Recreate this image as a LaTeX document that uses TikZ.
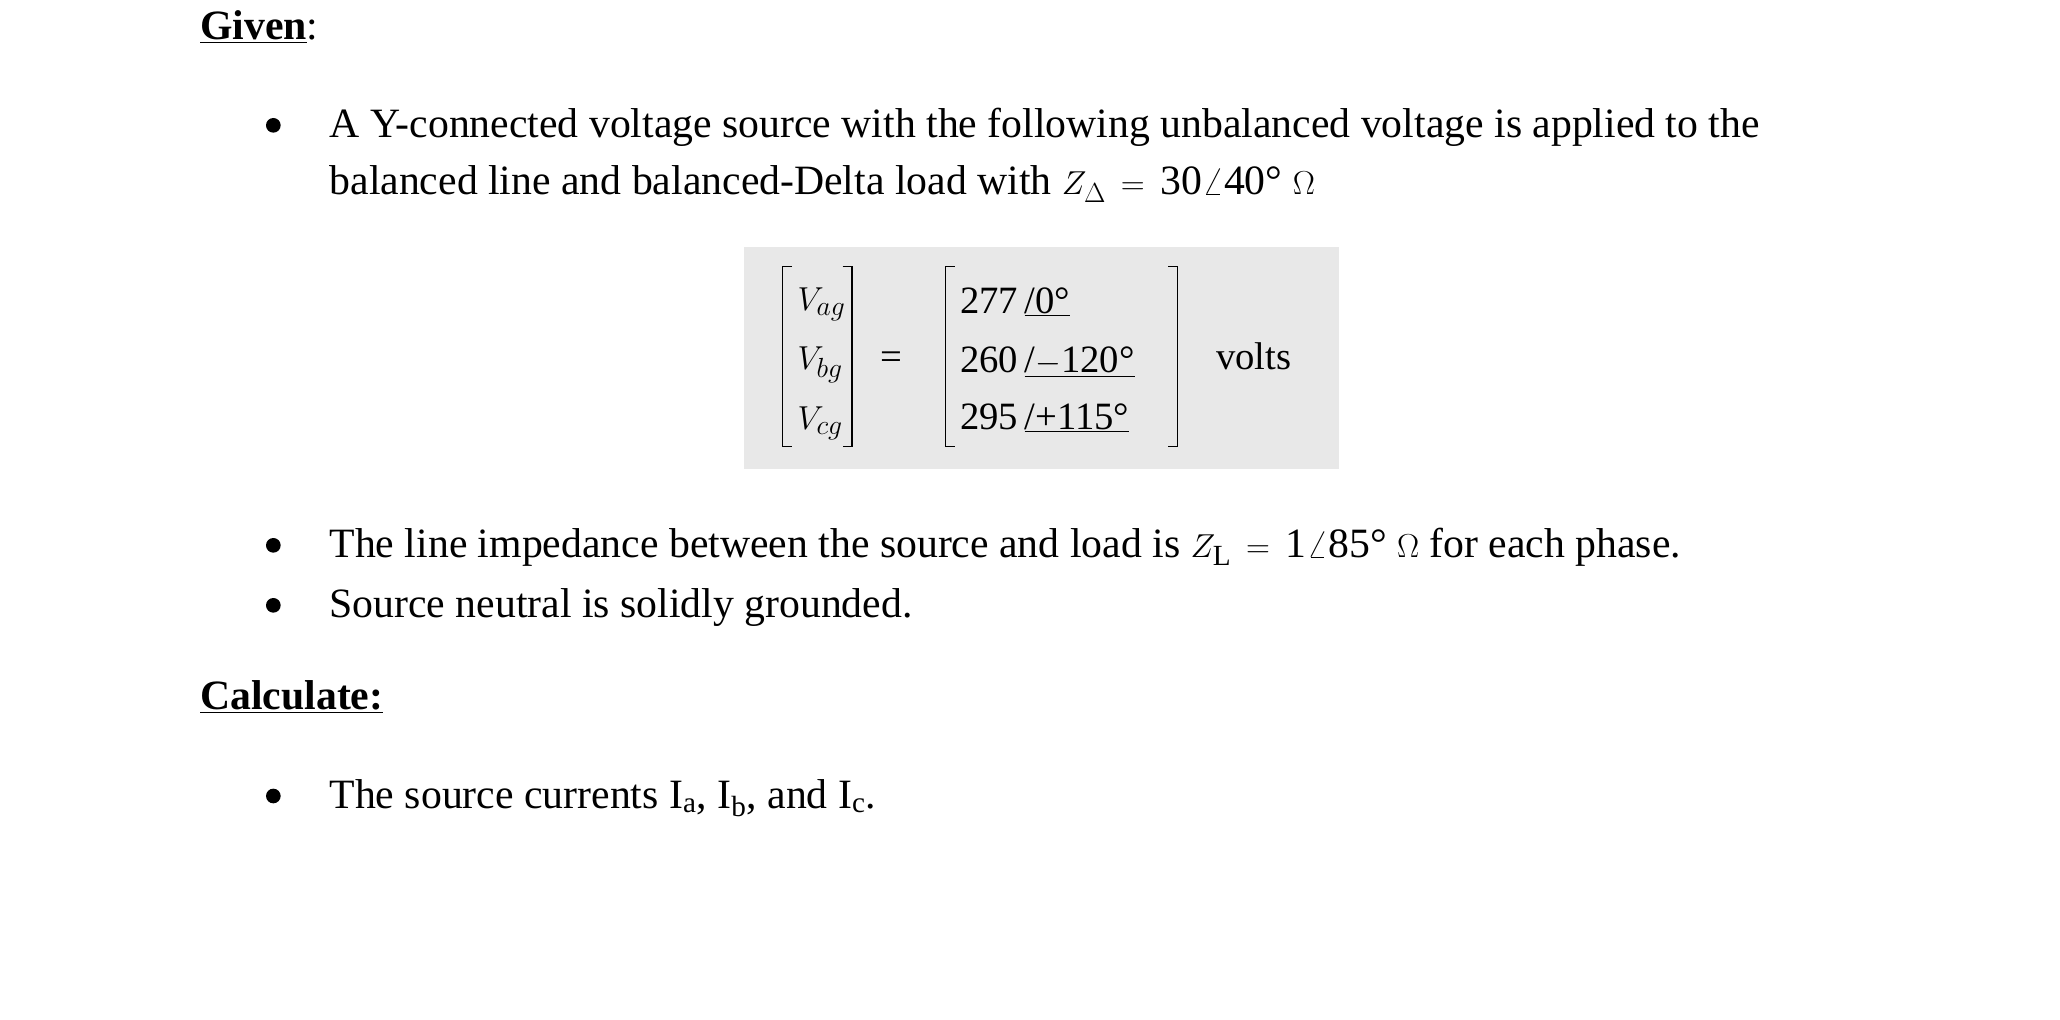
\documentclass[tikz,border=0pt]{standalone}
\usepackage{fontspec}
\setmainfont{Liberation Serif}
\newcommand{\phs}[2]{#1\,\underline{\smash{/}#2}}
\begin{document}
\begin{tikzpicture}[x=1pt,y=-1pt,
  txt/.style={anchor=base west,inner sep=0pt,font=\fontsize{31.3}{36}\selectfont},
  mtx/.style={anchor=base west,inner sep=0pt,font=\fontsize{29}{34}\selectfont},
  bul/.style={circle,fill=black,inner sep=0pt,minimum size=11pt}]
\useasboundingbox (0,0) rectangle (1545,765);
\node[txt] (given) at (150,30) {\underline{\textbf{Given}}:};
\node[bul] (b1) at (205,94) {};
\node[txt] (t1) at (247,103) {A Y-connected voltage source with the following unbalanced voltage is applied to the};
\node[txt] (t2) at (247,146) {balanced line and balanced-Delta load with $Z_\Delta\,=\,$ 30$\angle$40° $\Omega$};
\fill[gray!18] (558,185) rectangle (1004,352);
\node[mtx] (v1) at (598,233) {$V_{ag}$};
\node[mtx] (v2) at (598,277) {$V_{bg}$};
\node[mtx] (v3) at (598,322) {$V_{cg}$};
\draw[line width=1.2pt] (594,200)--(587,200)--(587,335)--(594,335);
\draw[line width=1.2pt] (632,200)--(639,200)--(639,335)--(632,335);
\node[mtx] (eq) at (660,277) {=};
\draw[line width=1.2pt] (716,200)--(709,200)--(709,335)--(716,335);
\draw[line width=1.2pt] (876,200)--(883,200)--(883,335)--(876,335);
\node[mtx] (m1) at (720,235) {\phs{277}{0°}};
\node[mtx] (m2) at (720,279) {\phs{260}{$-$120°}};
\node[mtx] (m3) at (720,322) {\phs{295}{+115°}};
\node[mtx] (volts) at (912,277) {volts};
\node[bul] (b2) at (205,409) {};
\node[txt] (t3) at (247,418) {The line impedance between the source and load is $Z_{\mathrm{L}}\,=\,$ 1$\angle$85° $\Omega$ for each phase.};
\node[bul] (b3) at (205,454) {};
\node[txt] (t4) at (247,463) {Source neutral is solidly grounded.};
\node[txt] (calc) at (150,532) {\underline{\textbf{Calculate:}}};
\node[bul] (b4) at (205,597) {};
\node[txt] (t5) at (247,606) {The source currents I\textsubscript{a}, I\textsubscript{b}, and I\textsubscript{c}.};
\end{tikzpicture}
\end{document}
